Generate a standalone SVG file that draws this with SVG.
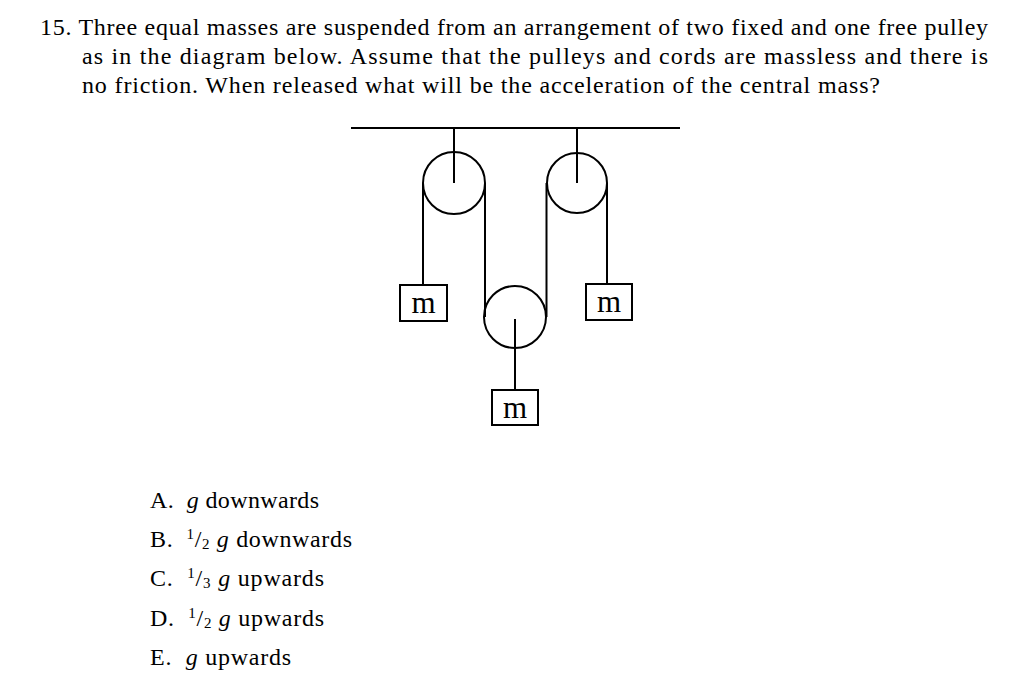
<svg xmlns="http://www.w3.org/2000/svg" width="1024" height="682" viewBox="0 0 1024 682">
<style>
.t{font-family:"Liberation Serif",serif;font-size:24px;fill:#000}
.m{font-family:"Liberation Serif",serif;font-size:31px;fill:#000;text-anchor:middle}
.s{stroke:#000;stroke-width:2;fill:none}
.f{font-size:15px}
</style>
<rect width="1024" height="682" fill="#fff"/>
<text class="t" x="40" y="35" textLength="948" lengthAdjust="spacing">15.  Three equal masses are suspended from an arrangement of two fixed and one free pulley</text>
<text class="t" x="82" y="64" textLength="906" lengthAdjust="spacing">as in the diagram below.  Assume that the pulleys and cords are massless and there is</text>
<text class="t" x="82" y="93" textLength="798" lengthAdjust="spacing">no friction.  When released what will be the acceleration of the central mass?</text>
<g id="support"><line class="s" x1="351" y1="128" x2="680" y2="128"/></g>
<g id="pulley-left"><circle class="s" cx="454" cy="183" r="31"/><line class="s" x1="454" y1="128" x2="454" y2="183"/></g>
<g id="pulley-right"><circle class="s" cx="577" cy="183" r="30"/><line class="s" x1="577" y1="128" x2="577" y2="183"/></g>
<g id="pulley-free"><circle class="s" cx="515" cy="317" r="31"/><line class="s" x1="515" y1="319" x2="515" y2="390"/></g>
<g id="cords">
<line class="s" x1="423" y1="183" x2="423" y2="285"/>
<line class="s" x1="485" y1="183" x2="485" y2="317"/>
<line class="s" x1="546.5" y1="183" x2="546.5" y2="317"/>
<line class="s" x1="607" y1="183" x2="607" y2="284"/>
</g>
<g id="mass-left"><rect class="s" x="400" y="285" width="47" height="36"/><text class="m" x="423.5" y="313">m</text></g>
<g id="mass-right"><rect class="s" x="586" y="284" width="46" height="36"/><text class="m" x="609" y="312">m</text></g>
<g id="mass-center"><rect class="s" x="492" y="390" width="46" height="35"/><text class="m" x="515" y="418">m</text></g>
<text class="t" x="150" y="508" xml:space="preserve" textLength="169" lengthAdjust="spacing">A.  <tspan font-style="italic">g</tspan> downwards</text>
<text class="t" x="150" y="547" xml:space="preserve" textLength="202" lengthAdjust="spacing">B.  <tspan class="f" dy="-8">1</tspan><tspan dy="8">/</tspan><tspan class="f" dy="2">2</tspan><tspan dy="-2"> </tspan><tspan font-style="italic">g</tspan> downwards</text>
<text class="t" x="150" y="586" xml:space="preserve" textLength="174" lengthAdjust="spacing">C.  <tspan class="f" dy="-8">1</tspan><tspan dy="8">/</tspan><tspan class="f" dy="2">3</tspan><tspan dy="-2"> </tspan><tspan font-style="italic">g</tspan> upwards</text>
<text class="t" x="150" y="626" xml:space="preserve" textLength="174" lengthAdjust="spacing">D.  <tspan class="f" dy="-8">1</tspan><tspan dy="8">/</tspan><tspan class="f" dy="2">2</tspan><tspan dy="-2"> </tspan><tspan font-style="italic">g</tspan> upwards</text>
<text class="t" x="150" y="665" xml:space="preserve" textLength="141" lengthAdjust="spacing">E.  <tspan font-style="italic">g</tspan> upwards</text>
</svg>
